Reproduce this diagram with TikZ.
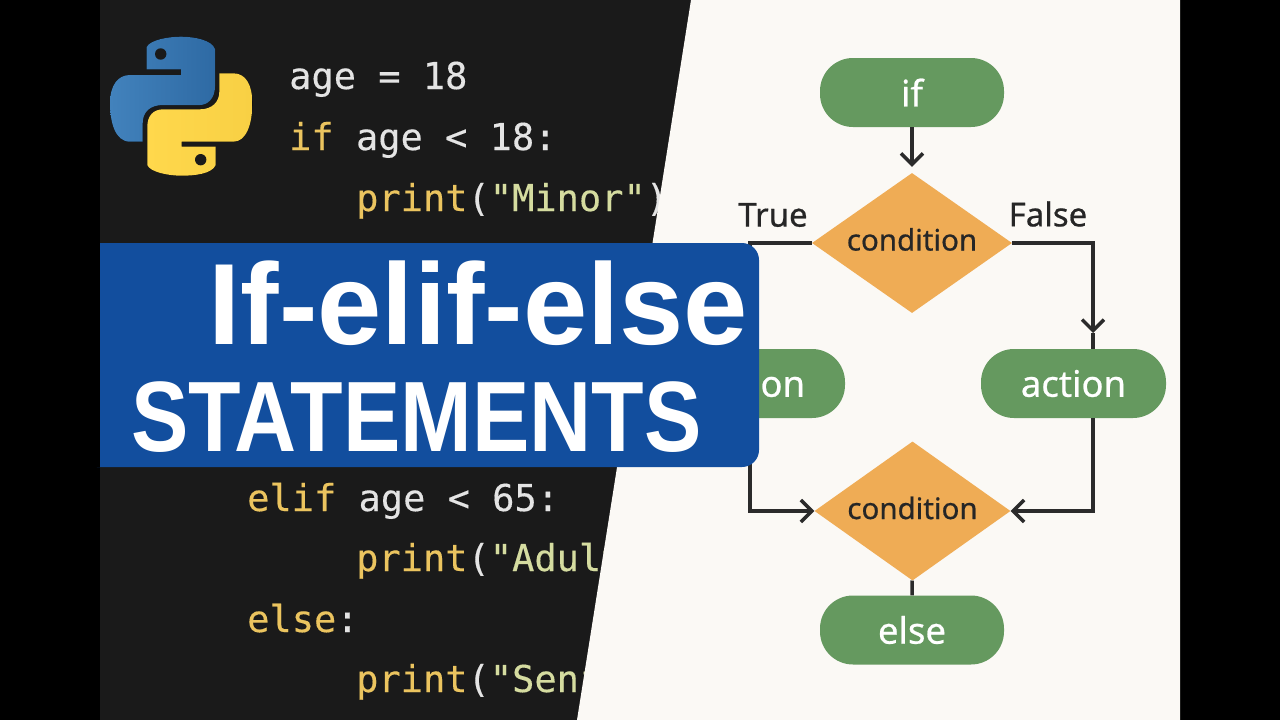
\documentclass[tikz,border=0pt]{standalone}
\usepackage{fontspec}
\usetikzlibrary{arrows.meta,shapes.geometric}
\setmainfont{Noto Sans}
\setmonofont[FakeBold=0.3]{DejaVu Sans Mono}
\newfontfamily\flowfont[FakeBold=0.6]{Noto Sans}
\newfontfamily\bannerfont[FakeStretch=0.86]{Liberation Sans Bold}
\newfontfamily\titlefont{Liberation Sans Bold}
\definecolor{panel}{HTML}{1A1A1A}
\definecolor{paper}{HTML}{FBF9F5}
\definecolor{codetext}{HTML}{E4E4E4}
\definecolor{keyword}{HTML}{EBC45F}
\definecolor{strtext}{HTML}{D5DCA0}
\definecolor{banner}{HTML}{124E9E}
\definecolor{pill}{HTML}{65995F}
\definecolor{gold}{HTML}{EFAC55}
\definecolor{wire}{HTML}{2B2B2B}
\definecolor{pyblue}{HTML}{4282BC}
\definecolor{pybluedark}{HTML}{2E6AA4}
\definecolor{pyyellow}{HTML}{FFD84C}
\definecolor{pyyellowdark}{HTML}{F8D044}
\tikzset{
  codeline/.style={anchor=base west,inner sep=0,text=codetext,font=\ttfamily\fontsize{37}{37}\selectfont},
  pillbox/.style={rectangle,rounded corners=33pt,fill=pill,text=white,minimum height=69pt,inner sep=0,font=\flowfont\fontsize{36.5}{36.5}\selectfont},
  decision/.style={diamond,aspect=1.43,fill=gold,text=black!85,inner sep=0,font=\flowfont\fontsize{29.5}{29.5}\selectfont},
  flowlabel/.style={inner sep=0,text=black!85,font=\flowfont\fontsize{33}{33}\selectfont},
  wired/.style={draw=wire,line width=3.5pt},
  flow/.style={wired,-{Straight Barb[length=11pt,width=22pt,line width=3.5pt]}}
}
\newcommand{\kw}[1]{\textcolor{keyword}{#1}}
\newcommand{\str}[1]{\textcolor{strtext}{#1}}
\begin{document}
\begin{tikzpicture}[x=1pt,y=-1pt]
\useasboundingbox (0,0) rectangle (1280,720);
\fill[black] (0,0) rectangle (1280,720);
\fill[panel] (100,0) rectangle (700,720);
% code
\node[codeline] (line1) at (289,89) {age = 18};
\node[codeline] (line2) at (289,150) {\kw{if} age < 18:};
\node[codeline] (line3) at (356,211) {\kw{print}(\str{"Minor"})};
\node[codeline] (line4) at (247,511) {\kw{elif} age < 65:};
\node[codeline] (line5) at (356,571) {\kw{print}(\str{"Adult"})};
\node[codeline] (line6) at (247,632) {\kw{else}:};
\node[codeline] (line7) at (356,692) {\kw{print}(\str{"Senior"})};
% white side
\fill[paper] (691,0) -- (1180,0) -- (1180,720) -- (577,720) -- cycle;
% logo
\fill[left color=pyblue,right color=pybluedark]
  (146.7,47) .. controls (150,40) and (168,36.7) .. (181,36.7)
  .. controls (194,36.7) and (212,40) .. (215,49) -- (215,86.7)
  .. controls (215,98) and (208,105) .. (200,105) -- (163.3,105)
  .. controls (150,105) and (142.7,112) .. (142.7,123.3) -- (142.7,141.7) -- (130,141.7)
  .. controls (115,141.7) and (110,122) .. (110,103.3)
  .. controls (110,85) and (118,75) .. (130,75) -- (181,75) -- (181,69.3) -- (146.7,69.3) -- cycle;
\fill[panel] (160.7,54) circle (5.7);
\fill[left color=pyyellow,right color=pyyellowdark]
  (219.3,73.3) -- (233.3,73.3) .. controls (246,73.3) and (252.3,85) .. (252.3,103.3)
  .. controls (252.3,125) and (246,141.7) .. (233.3,141.7) -- (181.7,141.7) -- (181.7,146.7) -- (215.7,146.7) -- (215.7,165)
  .. controls (212,174) and (194,175.7) .. (181.7,175.7)
  .. controls (168,175.7) and (150,172) .. (147.3,165) -- (147.3,126.7)
  .. controls (147.3,116) and (153,109.3) .. (163.3,109.3) -- (200,109.3)
  .. controls (212,109.3) and (219.3,102) .. (219.3,91.7) -- cycle;
\fill[panel] (200.7,159.7) circle (5.7);
% flow chart
\node[pillbox,minimum width=184pt] (ifnode) at (912,92.5) {if};
\node[decision,minimum width=200pt,minimum height=140pt] (cond1) at (912,243) {\raisebox{-7.5pt}[0pt][0pt]{condition}};
\node[pillbox,minimum width=185pt] (actL) at (752.5,383.5) {action};
\node[pillbox,minimum width=185pt] (actR) at (1073.5,383.5) {action};
\node[decision,minimum width=196pt,minimum height=139pt] (cond2) at (912.5,511) {\raisebox{-8pt}[0pt][0pt]{condition}};
\node[pillbox,minimum width=184pt] (elsenode) at (912,630) {else};
\node[flowlabel] (truelabel) at (773,215) {True};
\node[flowlabel] (falselabel) at (1048,214) {False};
\coordinate (arrL) at (750,333);
\coordinate (arrR) at (1093,333);
\draw[flow,shorten >=6pt] (ifnode) -- (cond1);
\draw[wired] (cond1.west) -| (arrL |- actL.north);
\draw[flow] (arrL |- actL.south) |- (cond2.west);
\draw[flow] (cond1.east) -| (arrR);
\draw[wired] (arrR) -- (arrR |- actR.north);
\draw[flow] (arrR |- actR.south) |- (cond2.east);
\draw[wired] (cond2) -- (elsenode);
% banner
\fill[banner,rounded corners=17pt] (80,243) rectangle (759,467);
\fill[black] (0,243) rectangle (100,467);
\node[anchor=base west,inner sep=0,text=white,font=\titlefont\fontsize{115.5}{115.5}\selectfont] (title1) at (208.5,344) {If-elif-else};
\node[anchor=base west,inner sep=0,text=white,font=\bannerfont\fontsize{100}{100}\selectfont] (title2) at (131,451) {STATEMENTS};
\end{tikzpicture}
\end{document}
